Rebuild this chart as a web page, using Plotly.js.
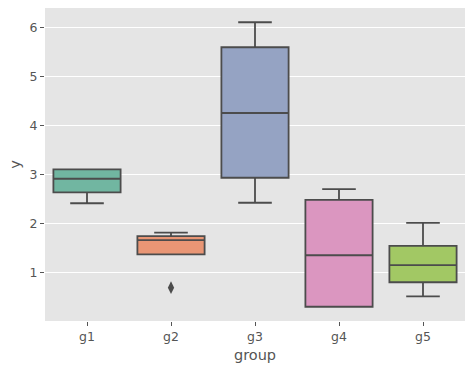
<!DOCTYPE html>
<html>
<head>
<meta charset="utf-8">
<script src="https://cdn.plot.ly/plotly-3.0.1.min.js"></script>
<style>
  html, body { margin: 0; padding: 0; background: #ffffff; }
  #chart { width: 474px; height: 370px; }
</style>
</head>
<body>
<div id="chart"></div>
<script>
// Box statistics per group
const groups      = ['g1', 'g2', 'g3', 'g4', 'g5'];
const q1Values    = [2.63, 1.37, 2.93, 0.30, 0.80];
const medianVals  = [2.91, 1.66, 4.25, 1.35, 1.15];
const q3Values    = [3.10, 1.74, 5.59, 2.48, 1.54];
const lowerFences = [2.41, 1.37, 2.42, 0.30, 0.51];
const upperFences = [3.10, 1.81, 6.10, 2.70, 2.01];
const fillColors  = ['#71b6a1', '#e99675', '#95a3c3', '#db96c0', '#a2c864'];

// Points beyond the whiskers
const outlierGroups = ['g2'];
const outlierValues = [0.69];

const lineColor = '#4c4c4c';

const traces = groups.map((g, i) => ({
  type: 'box',
  name: g,
  x: [g],
  q1: [q1Values[i]],
  median: [medianVals[i]],
  q3: [q3Values[i]],
  lowerfence: [lowerFences[i]],
  upperfence: [upperFences[i]],
  width: 0.8,
  whiskerwidth: 0.5,
  fillcolor: fillColors[i],
  line: { color: lineColor, width: 1.8 },
  boxpoints: false,
  hoverinfo: 'skip'
}));

traces.push({
  type: 'scatter',
  mode: 'markers',
  x: outlierGroups,
  y: outlierValues,
  marker: { symbol: 'diamond-tall', size: 9, color: lineColor, line: { width: 0 } },
  hoverinfo: 'skip'
});

const layout = {
  width: 474,
  height: 370,
  margin: { l: 45, r: 9, t: 8, b: 49 },
  paper_bgcolor: '#ffffff',
  plot_bgcolor: '#e5e5e5',
  showlegend: false,
  boxmode: 'overlay',
  font: { family: 'DejaVu Sans', color: '#555555', size: 12 },
  xaxis: {
    type: 'category',
    categoryorder: 'array',
    categoryarray: groups,
    range: [-0.5, 4.5],
    showgrid: false,
    zeroline: false,
    showline: false,
    ticks: 'outside',
    ticklen: 4,
    tickwidth: 1,
    tickcolor: '#555555',
    tickfont: { size: 12.5, color: '#555555' },
    title: { text: 'group', font: { size: 14.5, color: '#555555' }, standoff: 6 }
  },
  yaxis: {
    range: [0.01, 6.39],
    tickvals: [1, 2, 3, 4, 5, 6],
    showgrid: true,
    gridcolor: '#ffffff',
    gridwidth: 1,
    zeroline: false,
    showline: false,
    ticks: 'outside',
    ticklen: 4,
    tickwidth: 1,
    tickcolor: '#555555',
    tickfont: { size: 12.5, color: '#555555' },
    title: { text: 'y', font: { size: 14.5, color: '#555555' }, standoff: 5 }
  }
};

Plotly.newPlot('chart', traces, layout, { staticPlot: true, displayModeBar: false });
</script>
</body>
</html>
